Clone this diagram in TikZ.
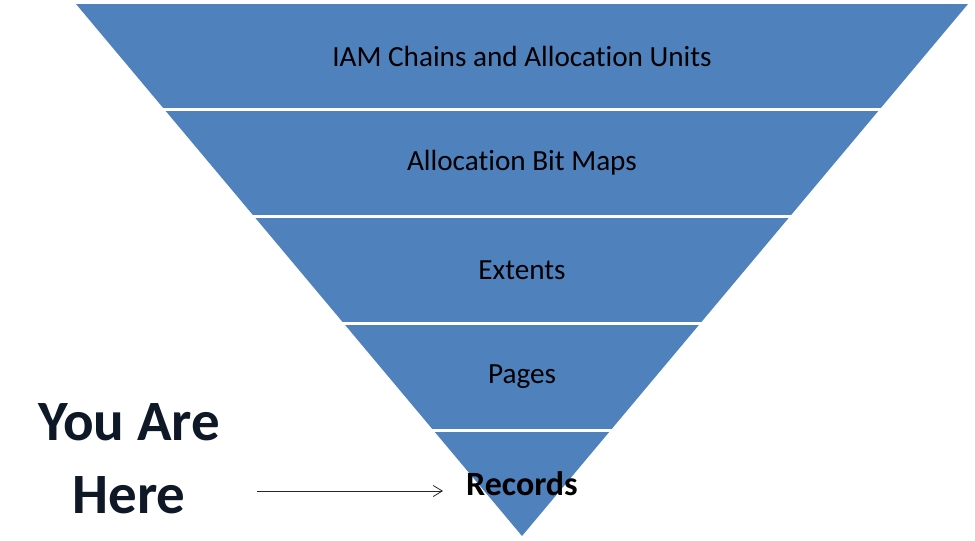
\documentclass[tikz,border=0pt]{standalone}
\usepackage{fontspec}
\setmainfont{Carlito}[Ligatures=NoCommon]
\usetikzlibrary{arrows.meta,positioning}
\definecolor{bandblue}{RGB}{79,129,189}
\definecolor{herenavy}{RGB}{14,24,38}
\tikzstyle{band} = [fill=bandblue]
\tikzstyle{gap} = [draw=white, line width=3pt]
\tikzstyle{layer} = [text=black, font=\fontsize{29.2}{33}\selectfont, inner sep=0pt]
\tikzstyle{here} = [text=herenavy, font=\fontsize{57}{73}\selectfont\bfseries, align=center, inner sep=0pt]
\tikzstyle{pointer} = [draw=black!85, line width=0.8pt, -{Straight Barb[length=9pt,width=11pt]}]

\begin{document}
\begin{tikzpicture}[x=1pt,y=-1pt]
    \useasboundingbox (0,0) rectangle (975,541);
    % funnel and the white lines between its layers
    \fill[band] (76,4) -- (968,4) -- (522,536) -- cycle;
    \foreach \y in {109.5,216.5,323.5,430.5}
        \draw[gap] (60,\y) -- (990,\y);

    \node [layer] (iam) at (522,56) {IAM Chains and Allocation Units};
    \node [layer] (bitmaps) at (522,163) {Allocation Bit Maps};
    \node [layer] (extents) at (522,270) {Extents};
    \node [layer] (pages) at (522,377) {Pages};
    \node [layer, font=\fontsize{34}{38}\selectfont\bfseries] (records) at (522,484) {Records};

    \node [here] (youarehere) at (129,459) {You Are\\Here};

    \coordinate (herearrow) at (257,491);
    \coordinate (arrowtip) at (443,491);
    \draw[pointer] (herearrow) -- (arrowtip);
\end{tikzpicture}
\end{document}
